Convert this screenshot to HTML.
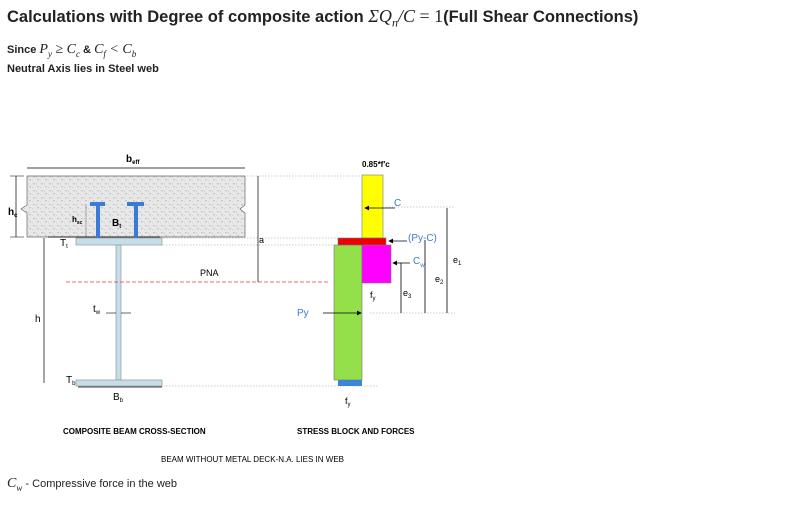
<!DOCTYPE html>
<html><head><meta charset="utf-8"><style>
body{margin:0;background:#fff;width:800px;height:506px;overflow:hidden;font-family:"Liberation Sans",sans-serif}
.m{font-family:"Liberation Serif",serif;font-style:italic}
</style></head><body>
<div style="position:absolute;left:7px;top:6px;font-size:16.5px;font-weight:bold;color:#222;white-space:nowrap">Calculations with Degree of composite action <span class="m" style="font-weight:normal;font-size:18px">ΣQ<sub style="font-size:12px">n</sub>/C</span><span style="font-family:'Liberation Serif',serif;font-weight:normal;font-size:18px"> = 1</span>(Full Shear Connections)</div>
<div style="position:absolute;left:7px;top:42px;font-size:11px;font-weight:bold;color:#222;white-space:nowrap">Since <span class="m" style="font-weight:normal;font-size:14px">P<sub style="font-size:9px">y</sub> ≥ C<sub style="font-size:9px">c</sub></span> &amp; <span class="m" style="font-weight:normal;font-size:14px">C<sub style="font-size:9px">f</sub> &lt; C<sub style="font-size:9px">b</sub></span></div>
<div style="position:absolute;left:7px;top:63px;font-size:11px;font-weight:bold;color:#222">Neutral Axis lies in Steel web</div>
<svg width="800" height="506" style="position:absolute;left:0;top:0" xmlns="http://www.w3.org/2000/svg">
<defs>
<pattern id="cp" width="8" height="7" patternUnits="userSpaceOnUse">
<rect width="8" height="7" fill="#e8e8e8"/>
<path d="M1 1l2 0-1 2z M5 4l2 0-1 2z M4 1l1 1-1 1z M0 5l1 1-1 0z" fill="#bcbcbc"/>
</pattern>
<marker id="ar" markerWidth="6" markerHeight="6" refX="5" refY="3" orient="auto"><path d="M0 0L6 3L0 6z" fill="#000"/></marker>
</defs>
<g font-family="Liberation Sans, sans-serif" font-size="9" fill="#000">
<path d="M27 176H245V205L240 209L245 213V237H27V213L21 209L27 205Z" fill="url(#cp)" stroke="#666" stroke-width="0.7"/>
<line x1="27" y1="168" x2="245" y2="168" stroke="#000" stroke-width="0.7"/>
<text x="126" y="162" font-size="10" font-weight="bold">b<tspan font-size="6" dy="2">eff</tspan></text>
<line x1="16" y1="176" x2="16" y2="237" stroke="#000" stroke-width="0.7"/>
<line x1="10" y1="176" x2="24" y2="176" stroke="#000" stroke-width="0.5"/>
<line x1="10" y1="237" x2="24" y2="237" stroke="#000" stroke-width="0.5"/>
<text x="8" y="215" font-size="10" font-weight="bold">h<tspan font-size="6" dy="2">c</tspan></text>
<line x1="44" y1="238" x2="44" y2="383" stroke="#000" stroke-width="0.7"/>
<text x="35" y="322" font-size="10">h</text>
<text x="72" y="222" font-size="8" font-weight="bold">h<tspan font-size="5" dy="2">sc</tspan></text>
<line x1="86" y1="204" x2="86" y2="237" stroke="#666" stroke-width="0.5"/>
<text x="112" y="226" font-size="10" font-weight="bold">B<tspan font-size="6" dy="2">t</tspan></text>
<line x1="48" y1="237" x2="160" y2="237" stroke="#000" stroke-width="0.7"/>
<text x="60" y="246" font-size="10">T<tspan font-size="6" dy="2">t</tspan></text>
<text x="66" y="383" font-size="10">T<tspan font-size="6" dy="2">b</tspan></text>
<text x="113" y="400" font-size="10">B<tspan font-size="6" dy="2">b</tspan></text>
<line x1="78" y1="387" x2="162" y2="387" stroke="#000" stroke-width="0.7"/>
<rect x="76" y="238" width="86" height="7" fill="#c7dde8" stroke="#8a9aa4" stroke-width="0.7"/>
<rect x="116" y="245" width="5" height="135" fill="#c7dde8" stroke="#8a9aa4" stroke-width="0.7"/>
<rect x="76" y="380" width="86" height="6" fill="#c7dde8" stroke="#8a9aa4" stroke-width="0.7"/>
<g fill="#3b7ad6"><rect x="90" y="202" width="15" height="4"/><rect x="96" y="202" width="4" height="36"/><rect x="127" y="202" width="17" height="4"/><rect x="134" y="202" width="4" height="36"/></g>
<line x1="106" y1="313" x2="116" y2="313" stroke="#000" stroke-width="0.6"/>
<line x1="121" y1="313" x2="131" y2="313" stroke="#000" stroke-width="0.6"/>
<text x="93" y="312" font-size="10">t<tspan font-size="6" dy="2">w</tspan></text>
<line x1="66" y1="282" x2="330" y2="282" stroke="#e04040" stroke-width="0.8" stroke-dasharray="4,2"/>
<text x="200" y="276" font-size="9">PNA</text>
<line x1="258" y1="176" x2="258" y2="282" stroke="#000" stroke-width="0.7"/>
<text x="259" y="243" font-size="9">a</text>
<g stroke="#999" stroke-width="0.6" stroke-dasharray="1.5,1.5">
<line x1="175" y1="176" x2="360" y2="176"/><line x1="160" y1="238" x2="340" y2="238"/><line x1="160" y1="245" x2="334" y2="245"/><line x1="160" y1="386" x2="378" y2="386"/>
<line x1="386" y1="207" x2="455" y2="207"/><line x1="370" y1="313" x2="455" y2="313"/>
</g>
<rect x="362" y="175" width="21" height="63" fill="#ffff00" stroke="#777" stroke-width="0.6"/>
<rect x="334" y="245" width="28" height="135" fill="#94e04a" stroke="#777" stroke-width="0.6"/>
<rect x="362" y="245" width="29" height="38" fill="#ff00ff" stroke="#777" stroke-width="0.6"/>
<rect x="338" y="238" width="48" height="7" fill="#ee0000" stroke="#777" stroke-width="0.6"/>
<rect x="338" y="380" width="24" height="6" fill="#3d84dd"/>
<text x="362" y="167" font-size="8" font-weight="bold">0.85*f'c</text>
<text x="370" y="298" font-size="9">f<tspan font-size="6" dy="2">y</tspan></text>
<text x="345" y="404" font-size="9">f<tspan font-size="6" dy="2">y</tspan></text>
<g stroke="#000" stroke-width="0.8" fill="none">
<line x1="395" y1="208" x2="365" y2="208" marker-end="url(#ar)"/>
<line x1="407" y1="241" x2="389" y2="241" marker-end="url(#ar)"/>
<line x1="410" y1="263" x2="393" y2="263" marker-end="url(#ar)"/>
<line x1="323" y1="313" x2="361" y2="313" marker-end="url(#ar)"/>
<line x1="447" y1="208" x2="447" y2="313"/><line x1="425" y1="240" x2="425" y2="313"/><line x1="401" y1="263" x2="401" y2="313"/>
</g>
<g fill="#3b7ad6" font-size="10"><text x="394" y="206">C</text><text x="408" y="241">(Py-C)</text><text x="413" y="264">C<tspan font-size="6" dy="3">w</tspan></text><text x="297" y="316">Py</text></g>
<text x="453" y="263">e<tspan font-size="6" dy="2">1</tspan></text>
<text x="435" y="282">e<tspan font-size="6" dy="2">2</tspan></text>
<text x="403" y="296">e<tspan font-size="6" dy="2">3</tspan></text>
<text x="63" y="434" font-size="8" font-weight="bold">COMPOSITE BEAM CROSS-SECTION</text>
<text x="297" y="434" font-size="8" font-weight="bold">STRESS BLOCK AND FORCES</text>
<text x="161" y="462" font-size="8">BEAM WITHOUT METAL DECK-N.A. LIES IN WEB</text>
</g>
</svg>
<div style="position:absolute;left:7px;top:476px;font-size:11px;color:#222;white-space:nowrap"><span class="m" style="font-size:14px">C<sub style="font-size:9px">w</sub></span> - Compressive force in the web</div>
</body></html>
